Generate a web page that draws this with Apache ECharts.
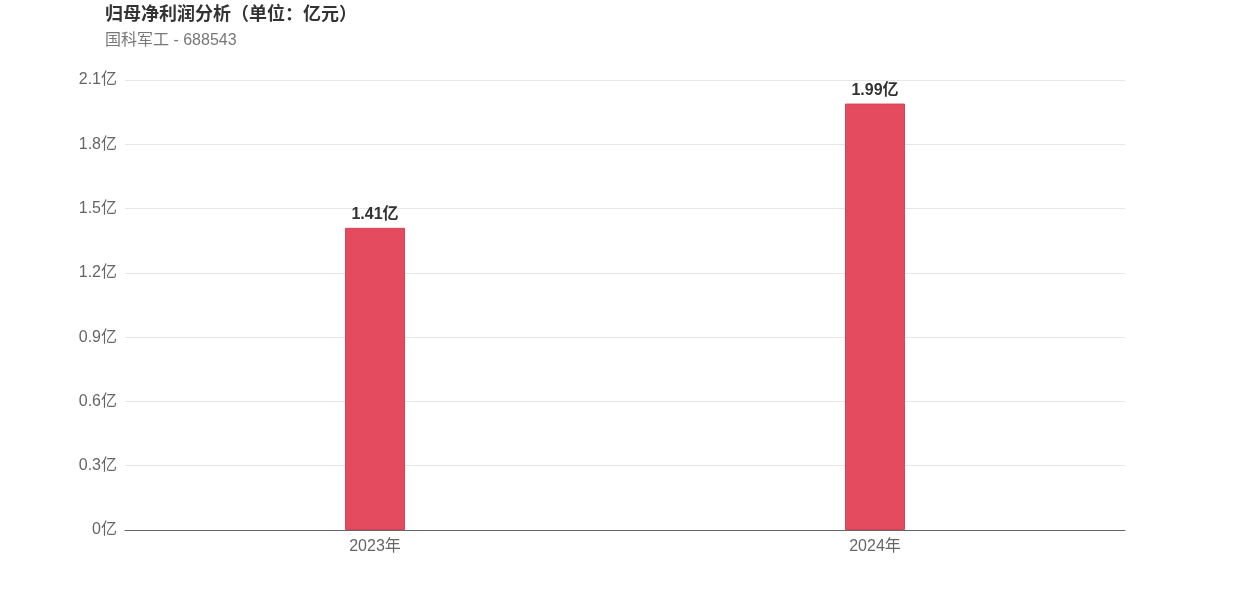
<!DOCTYPE html>
<html><head><meta charset="utf-8">
<script src="https://cdn.jsdelivr.net/npm/echarts@6/dist/echarts.min.js"></script>
<style>html,body{margin:0;padding:0;background:#fff}#c{width:1250px;height:600px}</style>
</head><body><div id="c"></div>
<script>
const categories = ['2023年', '2024年'];
const profitValues = [1.41, 1.99];
const titleText = '归母净利润分析（单位：亿元）';
const subtitleText = '国科军工 - 688543';
const chart = echarts.init(document.getElementById('c'));
chart.setOption({
  animation: false,
  title: {
    text: titleText, subtext: subtitleText, left: 100, top: 1,
    textStyle: { fontFamily: 'Liberation Sans, Noto Sans CJK SC', fontSize: 18, fontWeight: 'bold', color: '#333' },
    subtextStyle: { fontFamily: 'Liberation Sans, Noto Sans CJK SC', fontSize: 16, color: '#777' },
    itemGap: 9
  },
  grid: { left: 125, right: 125, top: 80, bottom: 70 },
  xAxis: {
    type: 'category', data: categories,
    axisTick: { show: false },
    axisLine: { lineStyle: { color: '#666' } },
    axisLabel: { color: '#666', fontSize: 16, fontFamily: 'Liberation Sans, Noto Sans CJK SC', margin: 9 }
  },
  yAxis: {
    type: 'value', min: 0, max: 2.1, interval: 0.3,
    axisLine: { show: false }, axisTick: { show: false },
    splitLine: { lineStyle: { color: '#e6e6e6' } },
    axisLabel: { color: '#666', fontSize: 16, fontFamily: 'Liberation Sans, Noto Sans CJK SC', margin: 8,
      formatter: v => (Math.round(v * 10) / 10) + '亿' }
  },
  series: [{
    type: 'bar', data: profitValues, barWidth: 60,
    itemStyle: { color: '#e54b5e', borderColor: '#d9435a', borderWidth: 1 },
    label: { show: true, position: 'top', color: '#333', fontWeight: 'bold', fontSize: 16,
      fontFamily: 'Liberation Sans, Noto Sans CJK SC', formatter: p => p.value + '亿' }
  }]
});
</script></body></html>
